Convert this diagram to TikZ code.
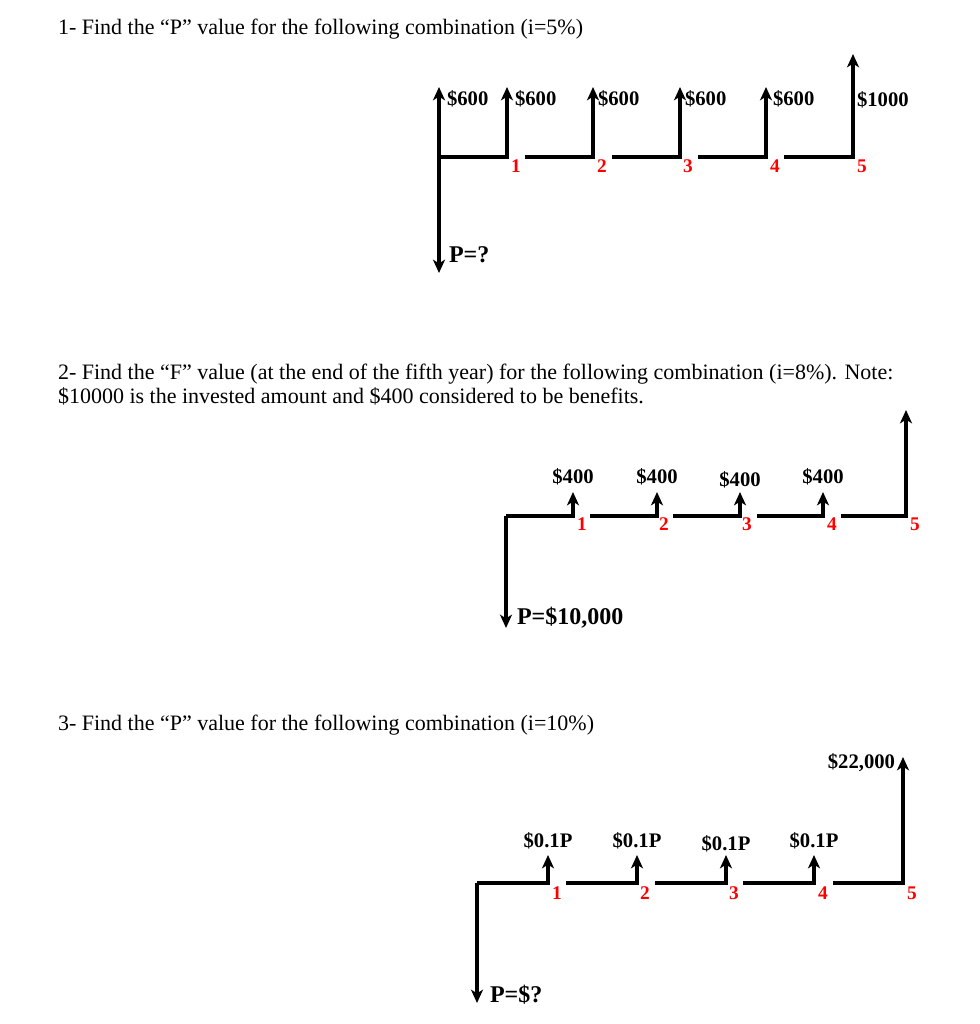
\documentclass[tikz,border=0pt]{standalone}
\usepackage{fontspec}
\setmainfont{Liberation Serif}
\usepackage{xcolor}
\usetikzlibrary{arrows.meta,positioning}
\definecolor{periodred}{RGB}{255,0,0}

\begin{document}
\begin{tikzpicture}[
    x=0.75pt, y=-0.75pt,
    >={Stealth[length=10pt, width=9pt, inset=2.8pt]},
    every node/.style={inner sep=0pt, outer sep=0pt},
    question/.style={font=\fontsize{16.5}{19}\selectfont, anchor=base west},
    amount/.style={font=\fontsize{15.5}{17}\selectfont\bfseries},
    given/.style={font=\fontsize{18}{19}\selectfont\bfseries, anchor=west},
    period/.style={font=\fontsize{14.5}{15}\selectfont\bfseries, text=periodred},
    flow/.style={line width=2.5pt, ->, line join=miter}
]
\useasboundingbox (0,0) rectangle (979,1024);

% Problem 1
\node[question] (q1) at (58,35) {1- Find the “P” value for the following combination (i=5\%)};

\coordinate (aa0) at (439,157);
\coordinate (aup) at (439,87);
\coordinate (adn) at (439,273);
\coordinate (au1) at (507,87);   \coordinate (as1) at (525,157);
\coordinate (au2) at (593,87);   \coordinate (as2) at (612,157);
\coordinate (au3) at (680,87);   \coordinate (as3) at (698,157);
\coordinate (au4) at (766,87);   \coordinate (as4) at (784,157);
\coordinate (au5) at (853,54);

\draw[flow, <->] (adn) -- (aup);
\draw[flow] (aa0) -| (au1);
\draw[flow] (as1) -| (au2);
\draw[flow] (as2) -| (au3);
\draw[flow] (as3) -| (au4);
\draw[flow] (as4) -| (au5);

\node[amount, anchor=west] (al0) at (447,99) {\$600};
\node[amount, anchor=west] (al1) at (515,99) {\$600};
\node[amount, anchor=west] (al2) at (598,99) {\$600};
\node[amount, anchor=west] (al3) at (685,99) {\$600};
\node[amount, anchor=west] (al4) at (773,99) {\$600};
\node[amount, anchor=west] (al5) at (857,100) {\$1000};

\node[period] (an1) at (516,166) {1};
\node[period] (an2) at (602,166) {2};
\node[period] (an3) at (688,166) {3};
\node[period] (an4) at (775,166) {4};
\node[period] (an5) at (862,166) {5};

\node[given] (ap) at (449,255) {P=?};

% Problem 2
\node[question] (q2a) at (58,379) {2- Find the “F” value (at the end of the fifth year) for the following combination (i=8\%). Note:};
\node[question] (q2b) at (58,403) {\$10000 is the invested amount and \$400 considered to be benefits.};

\coordinate (ba0) at (506,516);
\coordinate (bdn) at (506,628);
\coordinate (bu1) at (573,492);   \coordinate (bs1) at (590,516);
\coordinate (bu2) at (657,492);   \coordinate (bs2) at (673,516);
\coordinate (bu3) at (740,492);   \coordinate (bs3) at (757,516);
\coordinate (bu4) at (823,492);   \coordinate (bs4) at (841,516);
\coordinate (bu5) at (906,410);

\draw[flow] (ba0) -- (bdn);
\draw[flow] (ba0) -| (bu1);
\draw[flow] (bs1) -| (bu2);
\draw[flow] (bs2) -| (bu3);
\draw[flow] (bs3) -| (bu4);
\draw[flow] (bs4) -| (bu5);

\node[amount, above=5pt of bu1] (bl1) {\$400};
\node[amount, above=5pt of bu2] (bl2) {\$400};
\node[amount, above=3pt of bu3] (bl3) {\$400};
\node[amount, above=5pt of bu4] (bl4) {\$400};

\node[period] (bn1) at (582,524) {1};
\node[period] (bn2) at (664,524) {2};
\node[period] (bn3) at (747,524) {3};
\node[period] (bn4) at (832,524) {4};
\node[period] (bn5) at (915,524) {5};

\node[given] (bp) at (517,618) {P=\$10,000};

% Problem 3
\node[question] (q3) at (58,730) {3- Find the “P” value for the following combination (i=10\%)};

\coordinate (ca0) at (477,883);
\coordinate (cdn) at (477,1003);
\coordinate (cu1) at (548,855);   \coordinate (cs1) at (566,883);
\coordinate (cu2) at (637,855);   \coordinate (cs2) at (655,883);
\coordinate (cu3) at (726,855);   \coordinate (cs3) at (743,883);
\coordinate (cu4) at (814,855);   \coordinate (cs4) at (833,883);
\coordinate (cu5) at (903,757);

\draw[flow] (ca0) -- (cdn);
\draw[flow] (ca0) -| (cu1);
\draw[flow] (cs1) -| (cu2);
\draw[flow] (cs2) -| (cu3);
\draw[flow] (cs3) -| (cu4);
\draw[flow] (cs4) -| (cu5);

\node[amount, above=4.5pt of cu1] (cl1) {\$0.1P};
\node[amount, above=4.5pt of cu2] (cl2) {\$0.1P};
\node[amount, above=2.5pt of cu3] (cl3) {\$0.1P};
\node[amount, above=4.5pt of cu4] (cl4) {\$0.1P};
\node[amount, anchor=east] (cl5) at (895,763) {\$22,000};

\node[period] (cn1) at (557,893) {1};
\node[period] (cn2) at (645,893) {2};
\node[period] (cn3) at (734,893) {3};
\node[period] (cn4) at (823,893) {4};
\node[period] (cn5) at (912,893) {5};

\node[given] (cp) at (490,995) {P=\$?};

\end{tikzpicture}
\end{document}
